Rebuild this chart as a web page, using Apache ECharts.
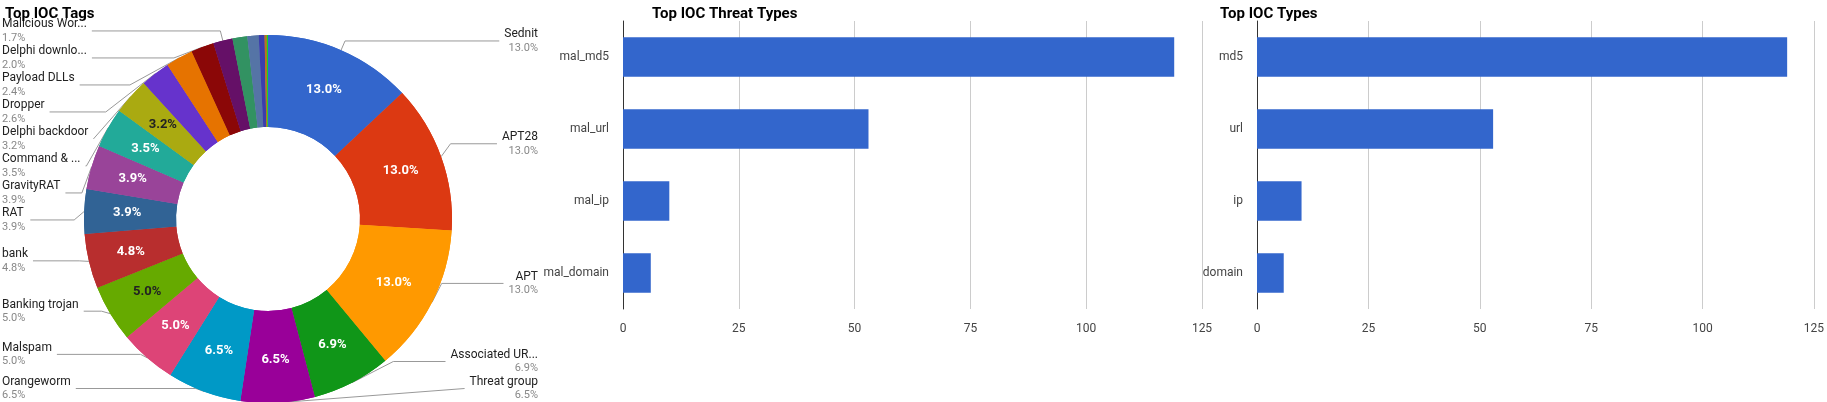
<!DOCTYPE html>
<html>
<head>
<meta charset="utf-8"/>
<style>
html,body{margin:0;padding:0;background:#fff;}
#main{width:1827px;height:402px;}
</style>
</head>
<body>
<div id="main"></div>
<script src="https://cdn.jsdelivr.net/npm/echarts@6/dist/echarts.min.js"></script>
<script>
// pie data
var tagNames = ['Sednit','APT28','APT','Associated UR...','Threat group','Orangeworm','Malspam','Banking trojan','bank','RAT','GravityRAT','Command & C...','Delphi backdoor','Dropper','Payload DLLs','Delphi downlo...','Malicious Wor...','tag18','tag19','tag20','tag21','tag22'];
var tagValues = [13.0,13.0,13.0,6.9,6.5,6.5,5.0,5.0,4.8,3.9,3.9,3.5,3.2,2.6,2.4,2.0,1.7,1.3,1.0,0.5,0.2,0.1];
var pieColors = ['#3366cc','#dc3912','#ff9900','#109618','#990099','#0099c6','#dd4477','#66aa00','#b82e2e','#316395','#994499','#22aa99','#aaaa11','#6633cc','#e67300','#8b0707','#651067','#329262','#5574a6','#3b3eac','#b77322','#16d620'];
var darkText = ['Banking trojan','Delphi backdoor'];

// bar data
var threatTypes = ['mal_md5','mal_url','mal_ip','mal_domain'];
var iocTypes = ['md5','url','ip','domain'];
var typeCounts = [119,53,10,6];

var chart = echarts.init(document.getElementById('main'));

var pieData = tagNames.map(function(n,i){
  return {
    name:n, value:tagValues[i],
    label:{show:tagValues[i]>=1.7},
    labelLine:{show:tagValues[i]>=1.7}
  };
});
var innerData = tagNames.map(function(n,i){
  return {
    name:n, value:tagValues[i],
    label:{show:tagValues[i]>=3.2, color: darkText.indexOf(n)>=0 ? '#222' : '#fff'}
  };
});

function barGrid(left,right){
  return {left:left,right:right,top:21,bottom:93};
}
function valueAxis(idx){
  return {
    type:'value',gridIndex:idx,min:0,max:125,interval:25,
    axisLabel:{color:'#444',fontSize:12,margin:14},
    splitLine:{lineStyle:{color:'#ccc'}},
    axisLine:{show:false},axisTick:{show:false}
  };
}
function catAxis(idx,data){
  return {
    type:'category',gridIndex:idx,data:data,inverse:true,
    axisLabel:{color:'#444',fontSize:12,margin:14},
    axisLine:{lineStyle:{color:'#333'}},axisTick:{show:false}
  };
}

chart.setOption({
  color:pieColors,
  textStyle:{fontFamily:'Roboto, Arial, sans-serif'},
  title:[
    {text:'Top IOC Tags',left:0,top:2,textStyle:{fontSize:15,fontWeight:'bold',color:'#000'}},
    {text:'Top IOC Threat Types',left:647,top:2,textStyle:{fontSize:15,fontWeight:'bold',color:'#000'}},
    {text:'Top IOC Types',left:1215,top:2,textStyle:{fontSize:15,fontWeight:'bold',color:'#000'}}
  ],
  grid:[barGrid(623,625),barGrid(1257,12)],
  xAxis:[valueAxis(0),valueAxis(1)],
  yAxis:[catAxis(0,threatTypes),catAxis(1,iocTypes)],
  series:[
    {
      type:'pie',left:0,width:540,top:0,height:402,
      center:[268,219],radius:[92,184],startAngle:90,
      data:pieData,
      label:{
        position:'outside',alignTo:'edge',edgeDistance:2,
        formatter:function(p){ return '{n|'+p.name+'}\n{p|'+p.value.toFixed(1)+'%}'; },
        rich:{n:{fontSize:12,color:'#222',lineHeight:14},p:{fontSize:11,color:'#888',lineHeight:13}}
      },
      labelLine:{length:10,length2:10,lineStyle:{color:'#999',width:1}},
      labelLayout:{hideOverlap:false},
      silent:true,z:1
    },
    {
      type:'pie',left:0,width:540,top:0,height:402,
      center:[268,219],radius:[92,184],startAngle:90,
      data:innerData,
      label:{position:'inside',formatter:function(p){ return p.value.toFixed(1)+'%'; },fontSize:13,fontWeight:'bold'},
      labelLine:{show:false},
      z:2
    },
    {
      type:'bar',xAxisIndex:0,yAxisIndex:0,data:typeCounts,barWidth:'55%',
      itemStyle:{color:'#3366cc'}
    },
    {
      type:'bar',xAxisIndex:1,yAxisIndex:1,data:typeCounts,barWidth:'55%',
      itemStyle:{color:'#3366cc'}
    }
  ]
});
</script>
</body>
</html>
